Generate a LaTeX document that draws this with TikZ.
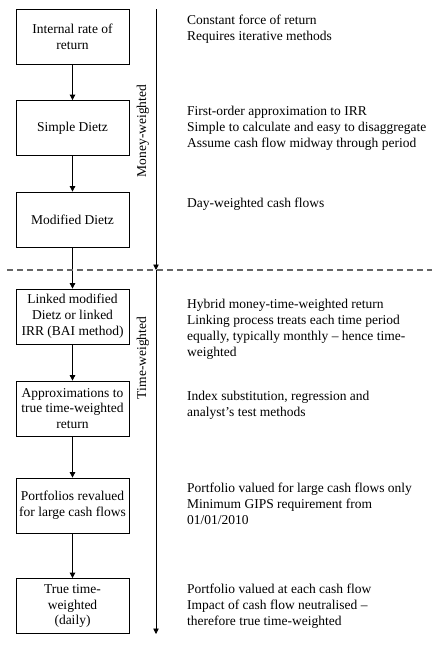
\documentclass[tikz,border=0pt]{standalone}
\usepackage{fontspec}
\setmainfont{Liberation Serif}
\usetikzlibrary{arrows.meta}
\begin{document}
\begin{tikzpicture}[x=1pt,y=-1pt,
  font=\fontsize{13.5}{15.9}\selectfont,
  stagebox/.style={draw,line width=0.8pt,minimum width=113pt,minimum height=55pt,align=center,inner sep=1pt},
  note/.style={anchor=north west,align=left,inner sep=0pt},
  flow/.style={line width=0.8pt,-{Triangle[length=5.5pt,width=5.5pt]}},
  sidelabel/.style={rotate=90,inner sep=0pt}]
\useasboundingbox (0,0) rectangle (442,649);
\node[stagebox] (irr) at (72.5,36.5) {Internal rate of\\return};
\node[stagebox] (sd) at (72.5,128) {Simple Dietz};
\node[stagebox] (md) at (72.5,219.5) {Modified Dietz};
\node[stagebox] (lmd) at (72.5,316.5) {Linked modified\\Dietz or linked\\IRR (BAI method)};
\node[stagebox] (app) at (72.5,408.5) {Approximations to\\true time-weighted\\return};
\node[stagebox] (port) at (72.5,505.5) {Portfolios revalued\\for large cash flows};
\node[stagebox] (true) at (72.5,606) {True time-\\weighted\\(daily)};
\draw[flow] (irr) -- (sd);
\draw[flow] (sd) -- (md);
\draw[flow] (md) -- (lmd);
\draw[flow] (lmd) -- (app);
\draw[flow] (app) -- (port);
\draw[flow] (port) -- (true);
\coordinate (dl) at (7,270);
\coordinate (dr) at (432,270);
\draw[line width=1.1pt,gray!80!black,dash pattern=on 6pt off 4pt] (dl) -- (dr);
\coordinate (vtop) at (156,9);
\coordinate (vmid) at (156,270);
\coordinate (vbot) at (156,634);
\draw[flow] (vtop) -- (vmid);
\draw[flow] (vmid) -- (vbot);
\node[sidelabel] (mw) at (143,131) {Money-weighted};
\node[sidelabel] (tw) at (143,358) {Time-weighted};
\node[note] (n1) at (187,15) {Constant force of return\\Requires iterative methods};
\node[note] (n2) at (187,106) {First-order approximation to IRR\\Simple to calculate and easy to disaggregate\\Assume cash flow midway through period};
\node[note] (n3) at (187,198) {Day-weighted cash flows};
\node[note] (n4) at (187,299) {Hybrid money-time-weighted return\\Linking process treats each time period\\equally, typically monthly -- hence time-\\weighted};
\node[note] (n5) at (187,391) {Index substitution, regression and\\analyst's test methods};
\node[note] (n6) at (187,483) {Portfolio valued for large cash flows only\\Minimum GIPS requirement from\\01/01/2010};
\node[note] (n7) at (187,584) {Portfolio valued at each cash flow\\Impact of cash flow neutralised --\\therefore true time-weighted};
\end{tikzpicture}
\end{document}
